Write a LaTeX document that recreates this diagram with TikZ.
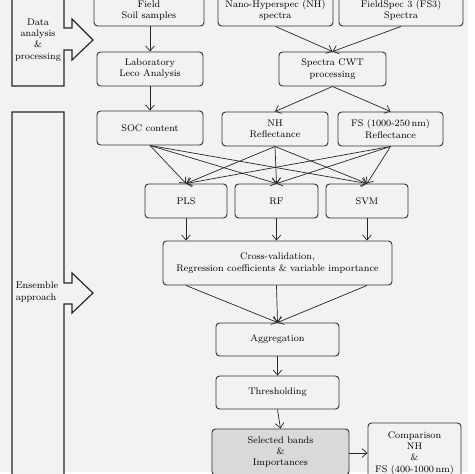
\documentclass[tikz,border=0pt]{standalone}
\usetikzlibrary{arrows.meta}
\begin{document}
\begin{tikzpicture}[
        x=0.03cm, y=-0.03cm,
        font=\fontsize{8.2}{9.6}\selectfont,
        box/.style={rectangle, draw=black!80, line width=0.8pt, fill=black!5, rounded corners=3pt, align=center, inner sep=1pt},
        arrow/.style={-{Straight Barb[length=1.5mm,width=2.6mm]}, line width=0.6pt, draw=black!85},
        band/.style={draw=black!85, line width=1pt, fill=black!5}
    ]
    \useasboundingbox (0,0) rectangle (474,474);
    \clip (0,0) rectangle (474,474);
    \fill[black!5] (0,0) rectangle (468,472);

    % Side bands
    \draw[band] (12,-10) -- (64,-10) -- (64,28) -- (72,28) -- (72,19) -- (93,40) -- (72,60) -- (72,50) -- (64,50) -- (64,86) -- (12,86) -- cycle;
    \node (dap) at (38,40) [align=center] {Data\\analysis\\\&\\processing};
    \draw[band] (12,112) -- (64,112) -- (64,283) -- (72,283) -- (72,273) -- (93,293) -- (72,313) -- (72,304) -- (64,304) -- (64,490) -- (12,490) -- cycle;
    \node (ens) at (37,292) [align=left] {Ensemble\\approach};

    % Data sources
    \node (field) at (149,10.5) [box, minimum width=3.3cm, minimum height=0.93cm] {Field\\Soil samples};
    \node (nhspec) at (275.5,10.5) [box, minimum width=3.45cm, minimum height=0.93cm] {Nano-Hyperspec (NH)\\spectra};
    \node (fsspec) at (401,10.5) [box, minimum width=3.72cm, minimum height=0.93cm] {FieldSpec 3 (FS3)\\Spectra};

    % Processing
    \node (lab) at (150,69) [box, minimum width=3.18cm, minimum height=1.02cm] {Laboratory\\Leco Analysis};
    \node (cwt) at (332.5,69) [box, minimum width=3.21cm, minimum height=1.02cm] {Spectra CWT\\processing};
    \draw[arrow] (field.south -| lab.north) -- (lab.north);
    \draw[arrow] (nhspec.south) -- (cwt.north);
    \draw[arrow] (fsspec.south) -- (cwt.north);

    % Inputs
    \node (soc) at (150,128) [box, minimum width=3.18cm, minimum height=1.02cm] {SOC content};
    \node (nhref) at (275,129) [box, minimum width=3.18cm, minimum height=1.02cm] {NH\\Reflectance};
    \node (fsref) at (390.5,129) [box, minimum width=3.15cm, minimum height=1.02cm] {FS (1000-250\,nm)\\Reflectance};
    \draw[arrow] (lab) -- (soc);
    \draw[arrow] (cwt.south) -- (nhref.north);
    \draw[arrow] (cwt.south) -- (fsref.north);

    % Models
    \node (pls) at (186,201) [box, minimum width=2.46cm, minimum height=1.02cm] {PLS};
    \node (rf) at (276.5,201) [box, minimum width=2.49cm, minimum height=1.02cm] {RF};
    \node (svm) at (367,201) [box, minimum width=2.46cm, minimum height=1.02cm] {SVM};
    \foreach \src in {soc, nhref, fsref}
        \foreach \dst in {pls, rf, svm}
            \draw[arrow] (\src.south) -- (\dst.north);

    % Ensemble
    \node (cv) at (277.5,263) [box, minimum width=6.87cm, minimum height=1.32cm] {Cross-validation,\\Regression coefficients \& variable importance};
    \foreach \m in {pls, rf, svm}
        \draw[arrow] (\m) -- (\m.south |- cv.north);

    \node (agg) at (277.5,339.5) [box, minimum width=3.69cm, minimum height=0.99cm] {Aggregation};
    \foreach \m in {pls, rf, svm}
        \draw[arrow] (\m.south |- cv.south) -- (agg.north);

    \node (thr) at (277.5,392.5) [box, minimum width=3.69cm, minimum height=0.99cm] {Thresholding};
    \draw[arrow] (agg) -- (thr);

    \node (sel) at (280.5,452) [box, fill=black!15, minimum width=4.11cm, minimum height=1.38cm] {Selected bands\\\&\\Importances};
    \draw[arrow] (thr.south) -- (sel.north);

    \node (cmp) at (414.5,453) [box, minimum width=2.79cm, minimum height=1.8cm] {Comparison\\NH\\\&\\FS (400-1000\,nm)};
    \draw[arrow] (sel.east |- cmp.west) -- (cmp.west);

\end{tikzpicture}
\end{document}
